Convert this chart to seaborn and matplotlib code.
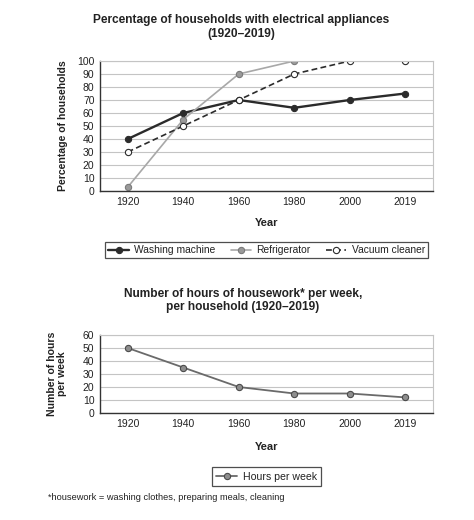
import matplotlib
matplotlib.use("Agg")
import matplotlib.pyplot as plt
import seaborn as sns
import pandas as pd
import numpy as np

sns.set_style("white")
plt.rcParams["font.family"] = ["Liberation Sans", "DejaVu Sans"]

years = ["1920", "1940", "1960", "1980", "2000", "2019"]
washing_machine = [40, 60, 70, 64, 70, 75]
refrigerator = [3, 55, 90, 100, np.nan, np.nan]
vacuum_cleaner = [30, 50, 70, 90, 100, 100]
hours_per_week = [50, 35, 20, 15, 15, 12]

TXT = "#222222"
GRID = "#c4c4c4"

fig = plt.figure(figsize=(4.74, 5.2), dpi=100)
ax1 = fig.add_axes([100 / 474, 1 - 191 / 520, 333 / 474, 130 / 520])
ax2 = fig.add_axes([100 / 474, 1 - 413 / 520, 333 / 474, 78 / 520])

df = pd.DataFrame({
    "Year": years,
    "Washing machine": washing_machine,
    "Refrigerator": refrigerator,
    "Vacuum cleaner": vacuum_cleaner,
    "Hours per week": hours_per_week,
})


def style_axes(ax, ymax):
    ax.set_xlim(-0.5, 5.5)
    ax.set_ylim(0, ymax)
    ax.set_yticks(range(0, ymax + 1, 10))
    ax.yaxis.grid(True, color=GRID, linewidth=0.8)
    ax.set_axisbelow(True)
    for side in ["top", "right"]:
        ax.spines[side].set_color(GRID)
        ax.spines[side].set_linewidth(0.8)
    for side in ["left", "bottom"]:
        ax.spines[side].set_color("#333333")
        ax.spines[side].set_linewidth(1.0)
    ax.tick_params(axis="both", length=0, labelsize=7.5, colors=TXT, pad=4)
    ax.set_xlabel("Year", fontsize=8, fontweight="bold", color=TXT)


# Top chart
sns.lineplot(data=df, x="Year", y="Washing machine", ax=ax1, color="#2b2b2b",
             linewidth=1.7, marker="o", markersize=4.5, markerfacecolor="#2b2b2b",
             markeredgecolor="#2b2b2b", label="Washing machine", sort=False)
sns.lineplot(data=df, x="Year", y="Refrigerator", ax=ax1, color="#a8a8a8",
             linewidth=1.2, marker="o", markersize=4.5, markerfacecolor="#9a9a9a",
             markeredgecolor="#7a7a7a", markeredgewidth=0.8, label="Refrigerator", sort=False)
sns.lineplot(data=df, x="Year", y="Vacuum cleaner", ax=ax1, color="#2b2b2b",
             linewidth=1.2, linestyle=(0, (3.5, 2)), marker="o", markersize=4.5,
             markerfacecolor="white", markeredgecolor="#2b2b2b", markeredgewidth=0.8,
             label="Vacuum cleaner", sort=False)
style_axes(ax1, 100)
ax1.set_ylabel("Percentage of households", fontsize=7.6, fontweight="bold", color=TXT,
               va="center")
ax1.yaxis.set_label_coords((63 - 100) / 333, 0.5)
ax1.xaxis.set_label_coords(0.5, (191 - 223) / 130)
ax1.xaxis.label.set_va("center")
leg1 = ax1.legend(loc="upper left", bbox_to_anchor=(0, (191 - 237) / 130, 1, 0.0),
                  mode="expand", ncol=3, fontsize=7.4, frameon=True, fancybox=False,
                  handlelength=2.0, borderpad=0.3, handletextpad=0.5, columnspacing=1.0)
leg1.get_frame().set_edgecolor("#222222")
leg1.get_frame().set_linewidth(0.9)
for t in leg1.get_texts():
    t.set_color(TXT)

fig.text(241 / 474, 1 - 20 / 520, "Percentage of households with electrical appliances",
         ha="center", va="center", fontsize=8.6, fontweight="bold", color=TXT)
fig.text(241 / 474, 1 - 34 / 520, "(1920\u20132019)",
         ha="center", va="center", fontsize=8.6, fontweight="bold", color=TXT)

# Bottom chart
sns.lineplot(data=df, x="Year", y="Hours per week", ax=ax2, color="#6a6a6a",
             linewidth=1.3, marker="o", markersize=4.5, markerfacecolor="#8e8e8e",
             markeredgecolor="#4a4a4a", markeredgewidth=0.8, label="Hours per week", sort=False)
style_axes(ax2, 60)
ax2.set_ylabel("Number of hours\nper week", fontsize=7.6, fontweight="bold", color=TXT,
               linespacing=0.95, va="center")
ax2.yaxis.set_label_coords((57 - 100) / 333, 0.5)
ax2.xaxis.set_label_coords(0.5, (413 - 447) / 78)
ax2.xaxis.label.set_va("center")
leg2 = ax2.legend(loc="upper center", bbox_to_anchor=(0.5, (413 - 462) / 78),
                  ncol=1, fontsize=7.6, frameon=True, fancybox=False,
                  handlelength=2.0, borderpad=0.4, handletextpad=0.5)
leg2.get_frame().set_edgecolor("#222222")
leg2.get_frame().set_linewidth(0.9)
for t in leg2.get_texts():
    t.set_color(TXT)

fig.text(243 / 474, 1 - 294 / 520, "Number of hours of housework* per week,",
         ha="center", va="center", fontsize=8.6, fontweight="bold", color=TXT)
fig.text(243 / 474, 1 - 307 / 520, "per household (1920\u20132019)",
         ha="center", va="center", fontsize=8.6, fontweight="bold", color=TXT)

fig.text(48 / 474, 1 - 498 / 520, "*housework = washing clothes, preparing meals, cleaning",
         ha="left", va="center", fontsize=6.7, color=TXT)

fig.savefig("out.png", dpi=100, facecolor="white")
